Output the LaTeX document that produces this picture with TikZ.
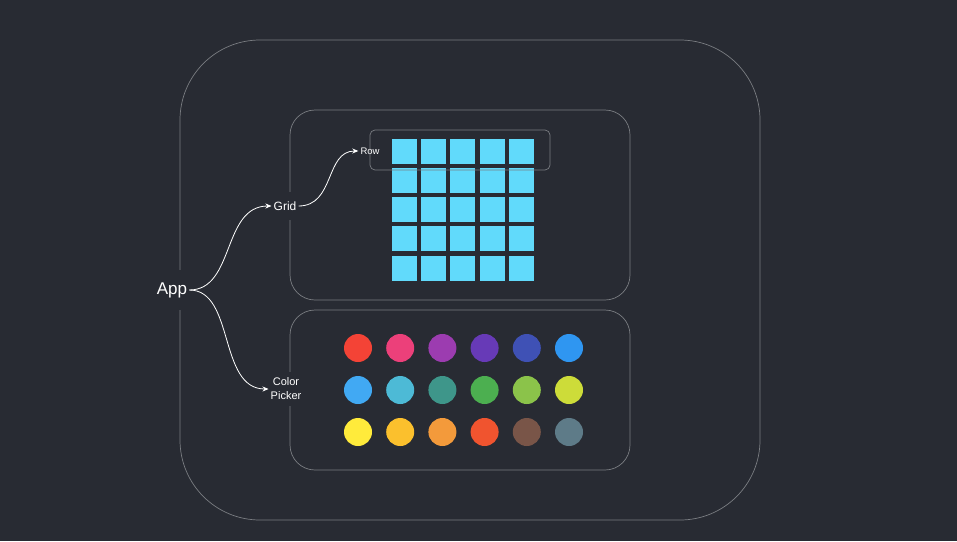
\documentclass[tikz,border=0pt]{standalone}
\usepackage{fontspec}
\setmainfont{Liberation Sans}
\usetikzlibrary{arrows.meta}
\definecolor{bg}{HTML}{282B33}
\definecolor{frame}{HTML}{7A7D82}
\definecolor{cell}{HTML}{61DAFB}
\tikzset{
  boxline/.style={draw=frame, line width=0.7pt},
  lbl/.style={text=white, fill=bg, inner sep=2pt, align=center},
  sq/.style={fill=cell, draw=none, minimum size=25pt, inner sep=0pt},
  dot/.style={circle, draw=none, minimum size=28pt, inner sep=0pt},
  conn/.style={draw=white, line width=0.8pt, -{Stealth[length=6pt,width=5pt]}}
}
\begin{document}
\begin{tikzpicture}[x=1pt,y=-1pt]
\fill[bg] (0,0) rectangle (957,541);
\useasboundingbox (0,0) rectangle (957,541);
\draw[boxline, rounded corners=80pt] (180,40) rectangle (760,520);
\draw[boxline, rounded corners=25pt] (290,110) rectangle (630,300);
\draw[boxline, rounded corners=25pt] (290,310) rectangle (630,470);
% squares
\foreach \c [count=\i] in {392,421,450,480,509}{
  \foreach \r [count=\j] in {139,168,197,226,256}{
    \node[sq] (s\i\j) at (\c+12.5,\r+12.5) {};
  }
}
\draw[boxline, rounded corners=5pt] (370,130) rectangle (550,170);
% circles
\foreach \col/\y/\k in {F44336/348/1,EC407A/348/2,9C3CB0/348/3,673AB7/348/4,3F51B5/348/5,2F96F1/348/6,
  41A9F3/390/1,4DBAD6/390/2,3E968A/390/3,4CAF50/390/4,8BC34A/390/5,CDDC39/390/6,
  FFEB3B/432/1,FBC02D/432/2,F39A3B/432/3,F0542F/432/4,795548/432/5,5E7B88/432/6}{
  \definecolor{dc}{HTML}{\col}
  \node[dot, fill=dc] (d\y-\k) at ({358+42.2*(\k-1)},\y) {};
}
% labels
\node[lbl, font=\fontsize{17}{20}\selectfont, inner ysep=12pt] (app) at (172,290) {App};
\node[lbl, font=\fontsize{12}{14}\selectfont, inner ysep=10pt] (grid) at (285,206) {Grid};
\node[lbl, font=\fontsize{9.5}{11}\selectfont, fill=none] (row) at (370,151) {Row};
\node[lbl, font=\fontsize{11}{14}\selectfont, inner ysep=6pt] (cp) at (286,389) {Color\\Picker};
% connectors
\draw[conn] (app.east) .. controls (235,290) and (222,206) .. (grid.west);
\draw[conn] (grid.east) .. controls (335,206) and (325,151) .. (row.west);
\draw[conn] (app.east) .. controls (235,290) and (218,389) .. (cp.west);
\end{tikzpicture}
\end{document}
